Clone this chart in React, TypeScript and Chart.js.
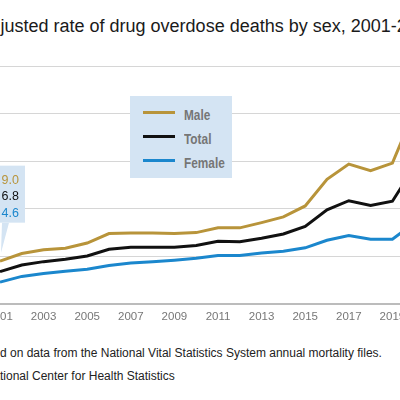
import React, { useEffect, useRef } from "react";
import { Chart, registerables } from "chart.js";

Chart.register(...registerables);

const years = [
  "2001", "2002", "2003", "2004", "2005", "2006", "2007", "2008", "2009", "2010", "2011",
  "2012", "2013", "2014", "2015", "2016", "2017", "2018", "2019", "2020", "2021",
];
const maleRates = [9.0, 10.6, 11.4, 11.7, 12.8, 14.8, 14.9, 14.9, 14.8, 15.0, 16.0, 16.0, 17.1, 18.3, 20.6, 26.2, 29.4, 28.0, 29.6, 40.5, 45.1];
const totalRates = [6.8, 8.2, 8.9, 9.4, 10.1, 11.5, 11.9, 11.9, 11.9, 12.3, 13.2, 13.1, 13.8, 14.7, 16.3, 19.8, 21.7, 20.7, 21.6, 28.8, 32.4];
const femaleRates = [4.6, 5.8, 6.4, 6.9, 7.3, 8.1, 8.6, 8.9, 9.2, 9.6, 10.2, 10.2, 10.7, 11.1, 11.8, 13.4, 14.4, 13.6, 13.6, 17.0, 19.6];
const seriesNames = ["Male", "Total", "Female"];
const yTickValues = [0, 10, 20, 30, 40, 50];

const MALE_COLOR = "#b8943a";
const TOTAL_COLOR = "#111111";
const FEMALE_COLOR = "#1b87cd";
const BOX_COLOR = "#d4e4f3";
const SANS = '"Liberation Sans", Arial, sans-serif';

const seriesColors = [MALE_COLOR, TOTAL_COLOR, FEMALE_COLOR];
const seriesValues = [maleRates, totalRates, femaleRates];

export default function App() {
  const canvasRef = useRef<HTMLCanvasElement | null>(null);

  useEffect(() => {
    document.body.style.margin = "0";
    const canvas = canvasRef.current;
    if (!canvas) return;

    const calloutPlugin = {
      id: "firstYearCallout",
      afterDraw(chart: any) {
        const { ctx, scales } = chart;
        const px = scales.x.getPixelForValue(0);
        const tipY = scales.y.getPixelForValue(maleRates[0]) - 8.5;
        const bottom = tipY - 30;
        const top = bottom - 57;
        ctx.save();
        ctx.fillStyle = BOX_COLOR;
        ctx.fillRect(px - 40, top, 65, bottom - top);
        ctx.beginPath();
        ctx.moveTo(px + 2, bottom);
        ctx.lineTo(px + 9, bottom);
        ctx.lineTo(px + 1, tipY);
        ctx.closePath();
        ctx.fill();
        ctx.font = `12.5px ${SANS}`;
        ctx.textAlign = "right";
        ctx.textBaseline = "alphabetic";
        seriesValues.forEach((vals, i) => {
          ctx.fillStyle = seriesColors[i];
          ctx.fillText(vals[0].toFixed(1), px + 19, top + 18 + i * 16.7);
        });
        ctx.restore();
      },
    };

    const chart = new Chart(canvas, {
      type: "line",
      data: {
        labels: years,
        datasets: seriesNames.map((name, i) => ({
          label: name,
          data: seriesValues[i],
          borderColor: seriesColors[i],
          backgroundColor: seriesColors[i],
          borderWidth: 3,
          pointRadius: 0,
          tension: 0,
          fill: false,
        })),
      },
      options: {
        animation: false,
        responsive: false,
        devicePixelRatio: 1,
        layout: { padding: { top: 66, left: 0, right: 30, bottom: 0 } },
        plugins: {
          legend: { display: false },
          title: { display: false },
          tooltip: { enabled: false },
        },
        scales: {
          x: {
            type: "category",
            offset: false,
            afterFit: (s: any) => {
              s.height = 26;
            },
            grid: { display: false, drawTicks: false, tickLength: 0 },
            border: { display: true, color: "#bcbcbc", width: 2 },
            ticks: {
              autoSkip: false,
              maxRotation: 0,
              minRotation: 0,
              padding: 6,
              color: "#777777",
              font: { family: SANS, size: 11.5 },
              callback: (_v: any, i: number) => (i % 2 === 0 ? years[i] : ""),
            },
          },
          y: {
            min: yTickValues[0],
            max: yTickValues[yTickValues.length - 1],
            afterFit: (s: any) => {
              s.width = 60;
            },
            afterBuildTicks: (s: any) => {
              s.ticks = yTickValues.map((v) => ({ value: v }));
            },
            grid: { color: "#d6d6d6", lineWidth: 1, drawTicks: false },
            border: { display: false },
            ticks: {
              color: "#777777",
              padding: 8,
              font: { family: SANS, size: 11.5 },
            },
          },
        },
      },
      plugins: [calloutPlugin],
    });

    return () => chart.destroy();
  }, []);

  const legendTops = [11, 35.2, 59.2];

  return (
    <div
      style={{
        position: "fixed",
        left: 0,
        top: 0,
        width: 400,
        height: 400,
        overflow: "hidden",
        background: "#ffffff",
      }}
    >
      <div
        style={{
          position: "absolute",
          left: 0.5,
          top: 16.8,
          fontFamily: SANS,
          fontSize: 18,
          lineHeight: "18px",
          color: "#1a1a1a",
          whiteSpace: "nowrap",
        }}
      >
        <span style={{ position: "absolute", right: "100%", top: 0 }}>Age-ad</span>
        justed rate of drug overdose deaths by sex, 2001-2021
      </div>

      <canvas
        ref={canvasRef}
        width={526}
        height={330}
        style={{ position: "absolute", left: -60, top: 0, width: 526, height: 330 }}
      />

      <div
        style={{
          position: "absolute",
          left: 130,
          top: 95.5,
          width: 102,
          height: 82.5,
          background: BOX_COLOR,
        }}
      >
        {seriesNames.map((name, i) => (
          <React.Fragment key={name}>
            <div
              style={{
                position: "absolute",
                left: 13,
                top: legendTops[i] + 4.5,
                width: 32,
                height: 3,
                background: seriesColors[i],
              }}
            />
            <div
              style={{
                position: "absolute",
                left: 54,
                top: legendTops[i],
                fontFamily: SANS,
                fontWeight: "bold",
                fontSize: 15,
                lineHeight: "15px",
                color: "#767676",
                whiteSpace: "nowrap",
                transform: "scaleX(0.79)",
                transformOrigin: "0 50%",
              }}
            >
              {name}
            </div>
          </React.Fragment>
        ))}
      </div>

      <div
        style={{
          position: "absolute",
          left: 0,
          top: 346.5,
          fontFamily: SANS,
          fontSize: 12,
          lineHeight: "12px",
          color: "#222222",
          whiteSpace: "nowrap",
        }}
      >
        <span style={{ position: "absolute", right: "100%", top: 0 }}>Note: Base</span>
        d on data from the National Vital Statistics System annual mortality files.
      </div>
      <div
        style={{
          position: "absolute",
          left: 0,
          top: 369.8,
          fontFamily: SANS,
          fontSize: 12,
          lineHeight: "12px",
          color: "#222222",
          whiteSpace: "nowrap",
        }}
      >
        <span style={{ position: "absolute", right: "100%", top: 0 }}>Source: Na</span>
        tional Center for Health Statistics
      </div>
    </div>
  );
}
